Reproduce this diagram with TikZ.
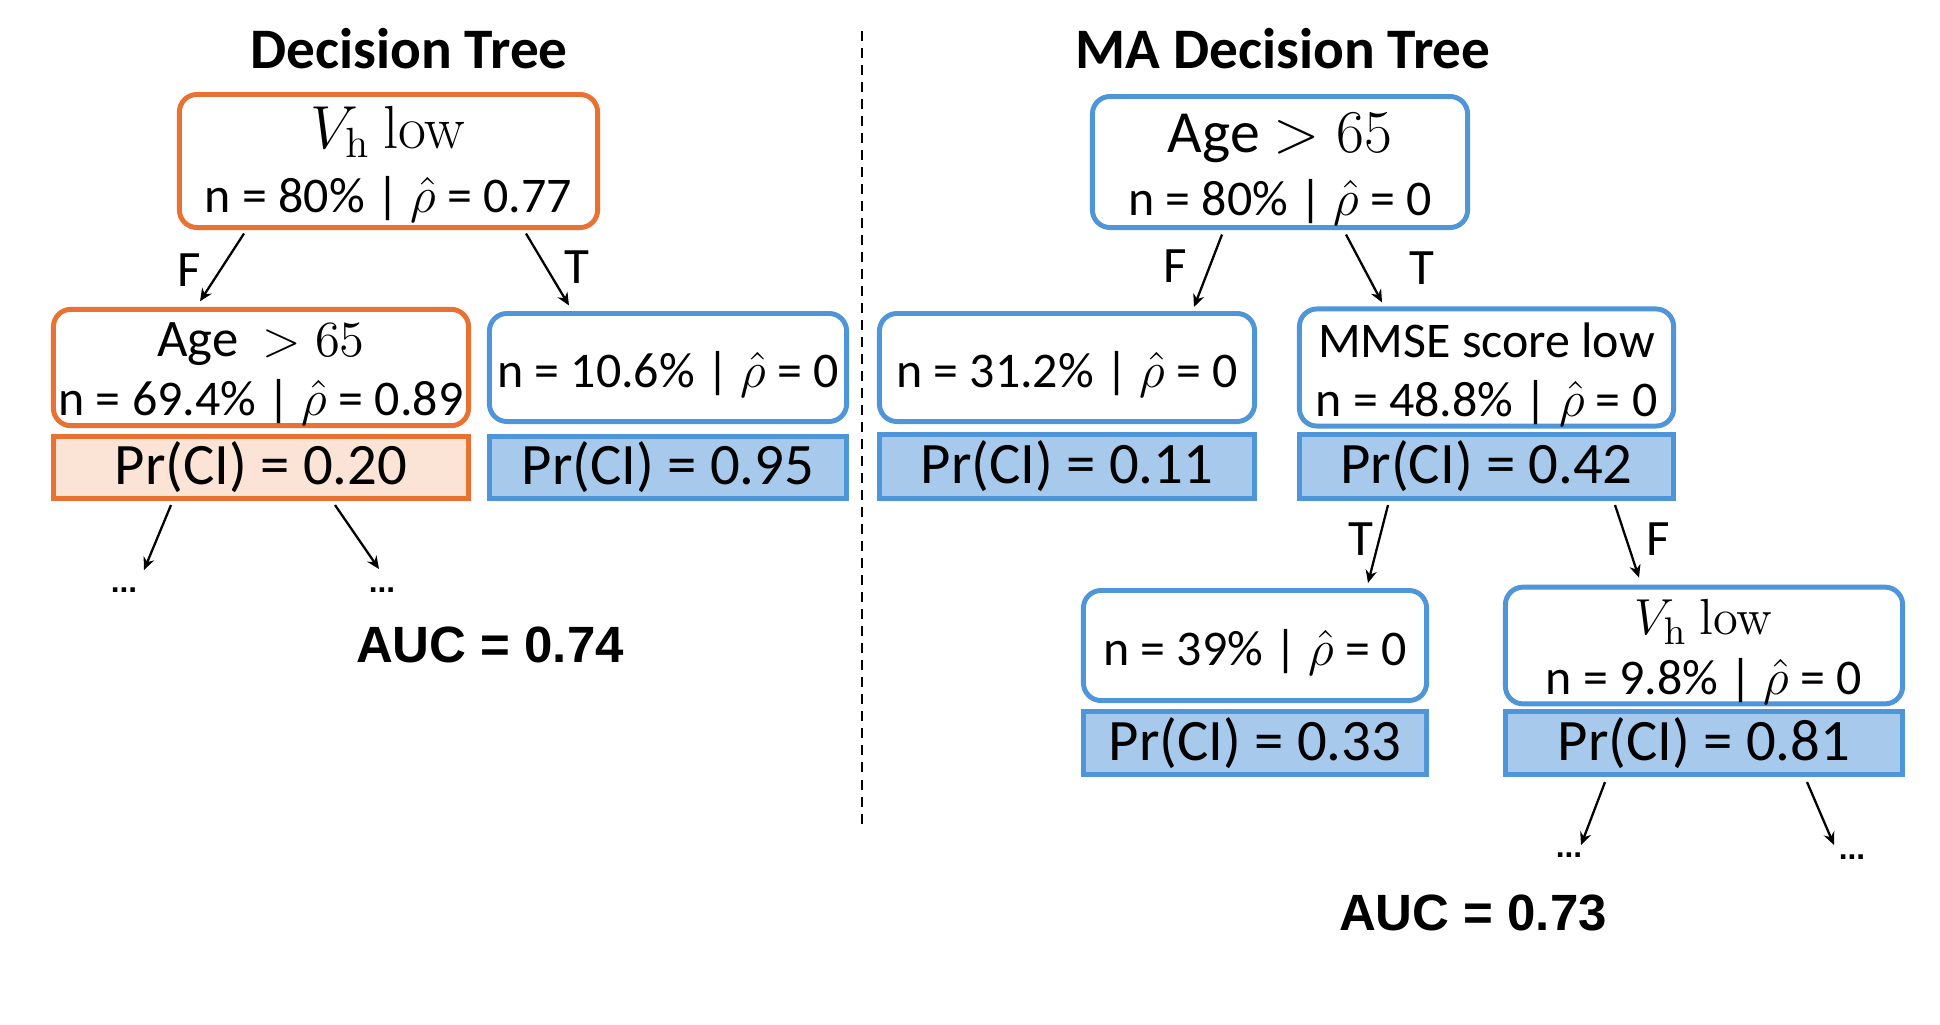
\documentclass[tikz,border=0pt]{standalone}
\usepackage[no-math]{fontspec}
\setmainfont{Carlito}
\newfontfamily\arialf{Liberation Sans}
\usetikzlibrary{arrows.meta,calc}
\definecolor{orng}{HTML}{E97132}
\definecolor{peach}{HTML}{FBE3D6}
\definecolor{blu}{HTML}{4E95D9}
\definecolor{lblu}{HTML}{A6C9EC}
\newcommand{\bigline}[1]{{\fontsize{17}{17}\selectfont #1}}
\newcommand{\vhlow}{\bigline{$V_{\mathrm{h}}\ \mathrm{low}$}}
\newcommand{\strt}[1]{\rule{0pt}{#1}}
\begin{document}
\begin{tikzpicture}[x=0.01cm,y=-0.01cm,
  every node/.style={inner sep=0pt, outer sep=0pt},
  tbox/.style={draw, line width=1.4pt, rounded corners=5pt, fill=white, align=center,
    font=\fontsize{14.2}{16.8}\selectfont},
  obox/.style={tbox, draw=orng},
  bbox/.style={tbox, draw=blu},
  pbox/.style={draw, line width=1.4pt, align=center, font=\fontsize{16.7}{19}\selectfont},
  opbox/.style={pbox, draw=orng, fill=peach},
  bpbox/.style={pbox, draw=blu, fill=lblu},
  ttl/.style={anchor=base, font=\fontsize{16.3}{19}\selectfont\bfseries},
  auc/.style={font=\arialf\fontsize{14.5}{17}\selectfont\bfseries},
  lbl/.style={font=\fontsize{14.5}{17}\selectfont},
  dots/.style={font=\arialf\fontsize{9}{10}\selectfont\bfseries},
  arr/.style={line width=0.65pt, -{Stealth[length=3.6pt,width=3.2pt]}}
]
\useasboundingbox (0,0) rectangle (1940,1024);

% titles
\node[ttl] (t1) at (409,68) {Decision Tree};
\node[ttl] (t2) at (1283,68) {MA Decision Tree};

% separator
\coordinate (s1) at (862,31);
\coordinate (s2) at (862,826);
\draw[line width=0.6pt, dash pattern=on 0.1cm off 0.07cm] (s1) -- (s2);

% ---------- left tree ----------
\node[obox, minimum width=4.18cm, minimum height=1.33cm] (root) at (388.5,161)
  {\strt{14pt}\vhlow\\[1.3pt] n = 80\% | $\hat{\rho}$ = 0.77};
\node[obox, minimum width=4.15cm, minimum height=1.08cm] (lc) at (261,367.5)
  {\strt{13.5pt}{\fontsize{15}{15}\selectfont Age \ $>65$}\\ n = 69.4\% | $\hat{\rho}$ = 0.89};
\node[opbox, minimum width=4.15cm, minimum height=0.62cm] (lpr) at (261,467.5) {Pr(CI) = 0.20};
\node[bbox, minimum width=3.57cm, minimum height=1.08cm] (rc) at (668,367.5)
  {\strt{14.3pt}n = 10.6\% | $\hat{\rho}$ = 0};
\node[bpbox, minimum width=3.57cm, minimum height=0.62cm] (rpr) at (668,467.5) {Pr(CI) = 0.95};

\draw[arr] ($(root.south)+(-144.5,6)$) -- ($(lc.north)+(-61,-8)$);
\draw[arr] ($(root.south)+(137.5,6)$) -- ($(rc.north)+(-99,-8)$);
\node[lbl] (f1) at (189,270) {F};
\node[lbl] (tt1) at (577,267) {T};

\node[dots] (d1) at (124,590) {...};
\node[dots] (d2) at (382,590) {...};
\draw[arr] ($(lpr.south)+(-90,6.5)$) -- ($(d1)+(20,-20)$);
\draw[arr] ($(lpr.south)+(74,6.5)$) -- ($(d2)+(-3,-21)$);

\node[auc] (auc1) at (490,645) {AUC = 0.74};

% ---------- right tree ----------
\node[bbox, minimum width=3.75cm, minimum height=1.31cm] (rr) at (1280,162)
  {\strt{15.3pt}\bigline{Age $>65$}\\[1.3pt] n = 80\% | $\hat{\rho}$ = 0};
\node[bbox, minimum width=3.75cm, minimum height=1.08cm] (c1) at (1067,367.5)
  {\strt{14.3pt}n = 31.2\% | $\hat{\rho}$ = 0};
\node[bpbox, minimum width=3.75cm, minimum height=0.64cm] (c1pr) at (1067,466.5) {Pr(CI) = 0.11};
\node[bbox, minimum width=3.74cm, minimum height=1.08cm] (mm) at (1486.5,367.5)
  {\strt{13.7pt}MMSE score low\\ n = 48.8\% | $\hat{\rho}$ = 0};
\node[bpbox, minimum width=3.74cm, minimum height=0.64cm] (mmpr) at (1486.5,466.5) {Pr(CI) = 0.42};
\node[bbox, minimum width=3.43cm, minimum height=1.10cm] (n39) at (1255,645.5)
  {\strt{14.3pt}n = 39\% | $\hat{\rho}$ = 0};
\node[bpbox, minimum width=3.43cm, minimum height=0.63cm] (n39pr) at (1255,743) {Pr(CI) = 0.33};
\node[bbox, minimum width=3.97cm, minimum height=1.10cm] (vh) at (1704,645.5)
  {\strt{13.6pt}{\fontsize{15.5}{15.5}\selectfont $V_{\mathrm{h}}\ \mathrm{low}$}\\ n = 9.8\% | $\hat{\rho}$ = 0};
\node[bpbox, minimum width=3.97cm, minimum height=0.63cm] (vhpr) at (1704,743) {Pr(CI) = 0.81};

\draw[arr] ($(rr.south)+(-58,7)$) -- ($(c1.north)+(127,-6.5)$);
\draw[arr] ($(rr.south)+(66,7)$) -- ($(mm.north)+(-104.5,-6.5)$);
\node[lbl] (f2) at (1175,266) {F};
\node[lbl] (tt2) at (1422,268) {T};

\draw[arr] ($(mmpr.south)+(-98.5,6.5)$) -- ($(n39.north)+(113,-7.5)$);
\draw[arr] ($(mmpr.south)+(128.5,6.5)$) -- ($(vh.north)+(-65,-9.5)$);
\node[lbl] (tt3) at (1361,539) {T};
\node[lbl] (f3) at (1658,539) {F};

\node[dots] (d3) at (1569,855) {...};
\node[dots] (d4) at (1852,857) {...};
\draw[arr] ($(vhpr.south)+(-99,7.5)$) -- ($(d3)+(12,-10)$);
\draw[arr] ($(vhpr.south)+(103,7.5)$) -- ($(d4)+(-18,-12)$);

\node[auc] (auc2) at (1473,913) {AUC = 0.73};
\end{tikzpicture}
\end{document}
